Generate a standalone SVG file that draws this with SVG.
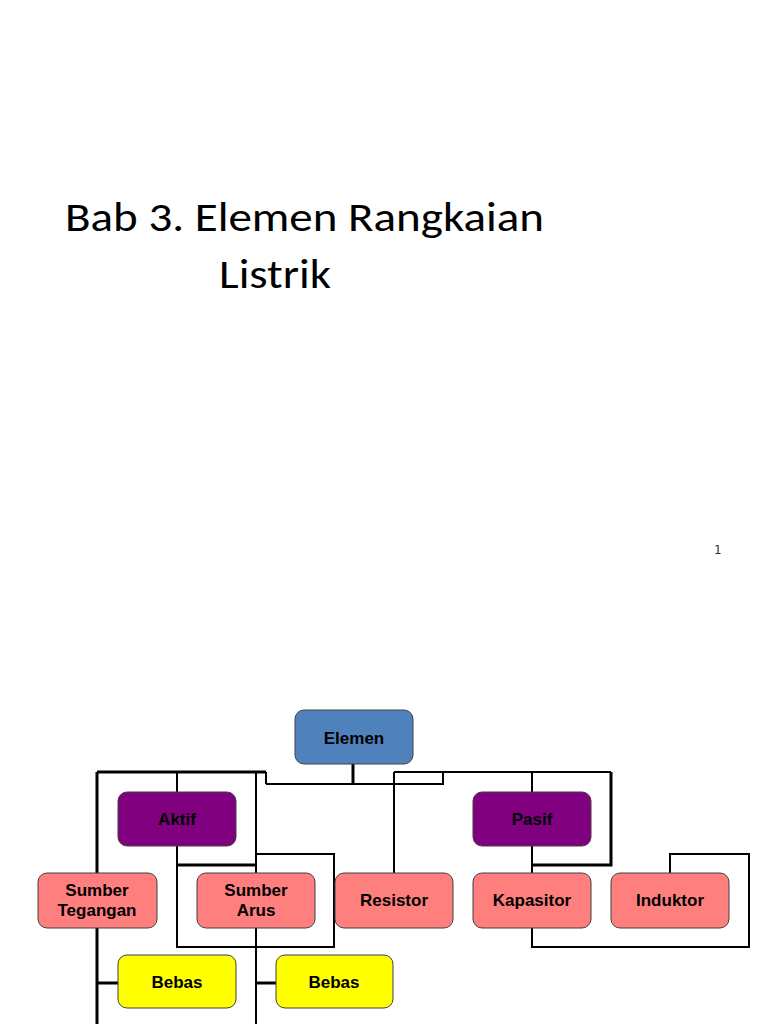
<svg xmlns="http://www.w3.org/2000/svg" width="768" height="1024" viewBox="0 0 768 1024">
<style>
.box{stroke:#404040;stroke-width:1}
.lbl{font-family:"Liberation Sans",Arial,sans-serif;font-weight:bold;font-size:17px;fill:#000;text-anchor:middle}
.thk{fill:none;stroke:#000;stroke-width:3}
.thn{fill:none;stroke:#000;stroke-width:2}
.title{font-family:Carlito,Lato,"Open Sans",sans-serif;font-size:42px;fill:#000}
</style>
<rect width="768" height="1024" fill="#fff"/>
<text class="title" x="65" y="231" textLength="479" lengthAdjust="spacingAndGlyphs">Bab 3. Elemen Rangkaian</text>
<text class="title" x="219" y="288" textLength="112" lengthAdjust="spacingAndGlyphs">Listrik</text>
<text x="714" y="554" font-family="'DejaVu Sans',sans-serif" font-size="12" fill="#333">1</text>
<g id="connectors">
<path class="thk" d="M353,764 V784"/>
<path class="thn" d="M266,784 H443 V772 M266,784 V772"/>
<path class="thk" d="M97,772 H266"/>
<path class="thn" d="M177,772 V792 M256,772 V873"/>
<path class="thk" d="M97,772 V873 M97,928 V1024 M97,983 H118"/>
<path class="thn" d="M177,846 V947 H334 V854 H256"/>
<path class="thk" d="M177,865 H256"/>
<path class="thn" d="M256,928 V1024"/>
<path class="thk" d="M256,983 H276"/>
<path class="thn" d="M394,772 H611 M394,772 V873 M532,772 V792"/>
<path class="thk" d="M611,772 V865 H532"/>
<path class="thn" d="M532,846 V873 M532,928 V947 H749 V854 H670 V873"/>
</g>
<g id="elemen"><rect class="box" x="295" y="710" width="118" height="54" rx="9" fill="#4F81BD"/><text class="lbl" x="354" y="744">Elemen</text></g>
<g id="aktif"><rect class="box" x="118" y="792" width="118" height="54" rx="9" fill="#800080"/><text class="lbl" x="177" y="825">Aktif</text></g>
<g id="pasif"><rect class="box" x="473" y="792" width="118" height="54" rx="9" fill="#800080"/><text class="lbl" x="532" y="825">Pasif</text></g>
<g id="sumber-tegangan"><rect class="box" x="38" y="873" width="119" height="55" rx="9" fill="#FF7F7F"/><text class="lbl" x="97" y="896">Sumber</text><text class="lbl" x="97" y="916">Tegangan</text></g>
<g id="sumber-arus"><rect class="box" x="197" y="873" width="118" height="55" rx="9" fill="#FF7F7F"/><text class="lbl" x="256" y="896">Sumber</text><text class="lbl" x="256" y="916">Arus</text></g>
<g id="resistor"><rect class="box" x="335" y="873" width="118" height="55" rx="9" fill="#FF7F7F"/><text class="lbl" x="394" y="906">Resistor</text></g>
<g id="kapasitor"><rect class="box" x="473" y="873" width="118" height="55" rx="9" fill="#FF7F7F"/><text class="lbl" x="532" y="906">Kapasitor</text></g>
<g id="induktor"><rect class="box" x="611" y="873" width="118" height="55" rx="9" fill="#FF7F7F"/><text class="lbl" x="670" y="906">Induktor</text></g>
<g id="bebas-1"><rect class="box" x="118" y="955" width="118" height="53" rx="9" fill="#FFFF00"/><text class="lbl" x="177" y="988">Bebas</text></g>
<g id="bebas-2"><rect class="box" x="276" y="955" width="117" height="53" rx="9" fill="#FFFF00"/><text class="lbl" x="334" y="988">Bebas</text></g>
</svg>
